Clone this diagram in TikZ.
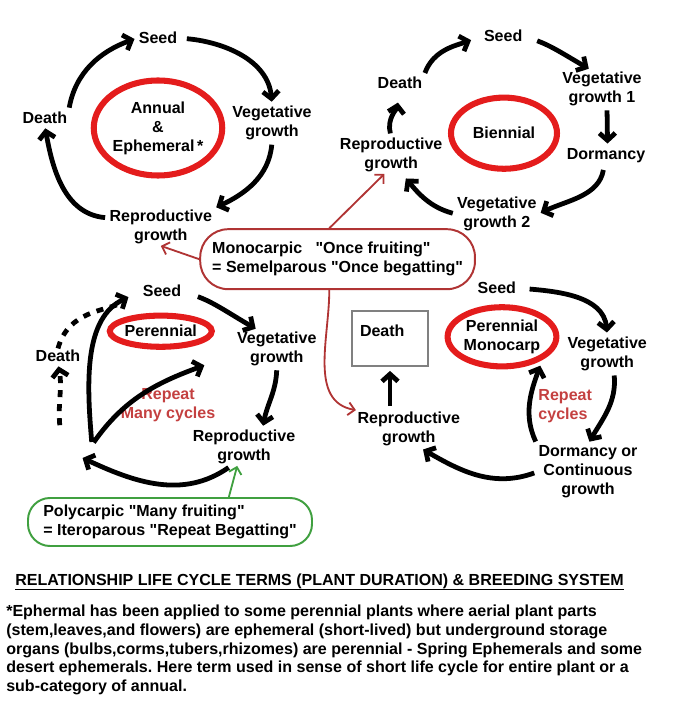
\documentclass[tikz,border=0pt]{standalone}
\usepackage{fontspec}
\setmainfont{Liberation Sans}[Ligatures=TeXOff]
\usetikzlibrary{arrows.meta, shapes.geometric, calc}
\definecolor{ringred}{RGB}{228,28,28}
\definecolor{monored}{RGB}{176,52,52}
\definecolor{repeatred}{RGB}{196,64,64}
\definecolor{polygreen}{RGB}{64,160,64}
\definecolor{deathgray}{RGB}{128,128,128}
\frenchspacing

\begin{document}
\begin{tikzpicture}[
    stage/.style={font=\fontsize{11.4}{13.5}\selectfont\bfseries, align=center, inner sep=1pt},
    ring/.style={draw=ringred, line width=4.3pt, ellipse, inner sep=0pt, font=\fontsize{11.4}{13.5}\selectfont\bfseries, align=center},
    arrow/.style={-{Straight Barb[length=1.8mm, width=4mm]}, line width=3.4pt, shorten <=2pt, shorten >=2pt},
    callarrow/.style={-{Straight Barb[length=1.6mm, width=3.2mm]}, line width=1.3pt, draw=#1},
    callout/.style={draw=#1, line width=1.4pt, align=left, inner ysep=0pt, font=\fontsize{11.4}{13.5}\selectfont\bfseries}
]
    \useasboundingbox (0,0) rectangle (17.25,17.8);

    % Annual & Ephemeral
    \node[ring, minimum width=3.1cm, minimum height=2.375cm] (ringA) at (3.95,14.6) {Annual\\\&\\Ephemeral\,*};
    \node[stage] (seedA) at (3.95,16.85) {Seed};
    \node[stage] (vegA) at (6.8,14.72) {Vegetative\\growth};
    \node[stage] (repA) at (4.02,12.12) {Reproductive\\growth};
    \node[stage] (deathA) at (1.12,14.85) {Death};

    \draw[arrow, shorten <=0.2cm] (seedA.east) to[out=-5, in=95] (vegA.north);
    \draw[arrow] (vegA.south) to[out=-95, in=25] (repA.north east);
    \draw[arrow] (repA.170) to[out=175, in=-80] (deathA.south);
    \draw[arrow] (deathA.north east) to[out=80, in=200] (seedA.west);

    % Biennial
    \node[ring, minimum width=2.65cm, minimum height=1.78cm] (ringB) at (12.6,14.47) {Biennial};
    \node[stage] (seedB) at (12.58,16.9) {Seed};
    \node[stage] (veg1B) at (15.05,15.58) {Vegetative\\growth 1};
    \node[stage] (dormB) at (15.15,13.92) {Dormancy};
    \node[stage] (veg2B) at (12.42,12.45) {Vegetative\\growth 2};
    \node[stage] (repB) at (9.78,13.92) {Reproductive\\growth};
    \node[stage] (deathB) at (10,15.72) {Death};

    \draw[arrow, shorten <=0.35cm] (seedB.east) to[out=-20, in=150] (veg1B.120);
    \draw[arrow] (veg1B.-75) -- (dormB.80);
    \draw[arrow, shorten <=0.15cm] (dormB.-100) to[out=-100, in=25] (veg2B.east);
    \draw[arrow, shorten >=0.15cm] (veg2B.west) to[out=165, in=-50] (repB.-60);
    \draw[arrow, shorten <=0.08cm, shorten >=0.3cm] (repB.north) to[out=105, in=-100] (deathB.south);
    \draw[arrow, shorten >=0.3cm] (deathB.north east) to[out=70, in=200] (seedB.west);

    % Perennial
    \node[ring, minimum width=2.3cm, minimum height=0.78cm] (ringC) at (4.02,9.52) {Perennial};
    \node[stage] (seedC) at (4.05,10.52) {Seed};
    \node[stage] (vegC) at (6.92,9.08) {Vegetative\\growth};
    \node[stage] (repC) at (6.1,6.62) {Reproductive\\growth};
    \node[stage] (deathC) at (1.45,8.9) {Death};
    \node[stage, text=repeatred] (repeatC) at (4.2,7.68) {Repeat\\Many cycles};
    \coordinate (hubC) at (2.3,6.68);
    \coordinate (tipC) at (2,6.38);
    \coordinate (dashC) at (1.5,7.1);

    \draw[arrow, shorten <=0.4cm] (seedC.east) to[out=-20, in=150] (vegC.135);
    \draw[arrow] (vegC.south) to[out=-92, in=80] (repC.45);
    \draw[arrow] (repC.235) to[out=215, in=-25] (tipC);
    \draw[arrow, shorten >=0.35cm] (hubC) to[out=95, in=205] (seedC.west);
    \draw[arrow] (hubC) to[out=55, in=200] ($(ringC.south east)+(0.2,-0.5)$);
    \draw[arrow, dash pattern=on 5pt off 5pt] (dashC) to[out=95, in=-80] (deathC.south);
    \draw[line width=3.4pt, dash pattern=on 5pt off 5pt, shorten >=0.6cm] (deathC.north) to[out=75, in=210] (seedC.west);

    \node[callout=polygreen, rounded corners=0.55cm, minimum width=7.1cm, inner xsep=0.35cm, minimum height=1.2cm] (polyCall) at (4.25,4.75) {Polycarpic "Many fruiting"\\= Iteroparous "Repeat Begatting"};
    \draw[callarrow=polygreen] (polyCall.23) -- (repC.250);

    % Perennial Monocarp
    \node[ring, minimum width=2.72cm, minimum height=1.48cm] (ringD) at (12.55,9.38) {Perennial\\Monocarp};
    \node[stage] (seedD) at (12.42,10.6) {Seed};
    \node[stage] (vegD) at (15.18,8.95) {Vegetative\\growth};
    \node[stage] (dormD) at (14.7,6) {Dormancy or\\Continuous\\growth};
    \node[stage] (repD) at (10.22,7.08) {Reproductive\\growth};
    \node[stage, text=repeatred, align=left, anchor=west] (repeatD) at (13.42,7.65) {Repeat\\cycles};
    \node[draw=deathgray, line width=1.6pt, font=\fontsize{11.4}{13.5}\selectfont\bfseries, align=left, text width=1.5cm, text height=0.45cm, text depth=0.52cm, inner sep=0.2cm] (deathD) at (9.75,9.34) {Death};

    \draw[arrow, shorten <=0.3cm] (seedD.east) to[out=-5, in=95] (vegD.north);
    \draw[arrow] (vegD.-70) to[out=-85, in=60] (dormD.north);
    \draw[arrow, shorten >=0.1cm] (dormD.west) to[out=200, in=-30] (repD.-60);
    \draw[arrow, shorten <=0.1cm, shorten >=0.1cm] (deathD.south |- repD.north) -- (deathD.south);
    \draw[arrow, shorten >=0.15cm] (dormD.north west) to[out=115, in=-110] (ringD.-30);

    % Monocarpic
    \node[callout=monored, rounded corners=0.7cm, minimum width=6.82cm, inner xsep=0.3cm, minimum height=1.5cm] (monoCall) at (8.44,11.32) {Monocarpic~~~"Once fruiting"\\= Semelparous "Once begatting"};
    \draw[callarrow=monored] (monoCall.west) -- (repA.south);
    \draw[callarrow=monored] (monoCall.105) -- (repB.250);
    \draw[callarrow=monored] (monoCall.-105) to[out=-90, in=170] (repD.north west);

    % Notes
    \node[anchor=base west, inner sep=0pt, font=\fontsize{11.4}{13.5}\selectfont\bfseries] (title) at (0.375,3.15) {RELATIONSHIP LIFE CYCLE TERMS (PLANT DURATION) \& BREEDING SYSTEM};
    \draw[line width=1.2pt] (title.south west) -- (title.south east);
    \node[anchor=north west, align=left, inner sep=0pt, font=\fontsize{11.4}{13.3}\selectfont\bfseries] (note) at (0.15,2.68) {*Ephermal has been applied to some perennial plants where aerial plant parts\\(stem,leaves,and flowers) are ephemeral (short-lived) but underground storage\\organs (bulbs,corms,tubers,rhizomes) are perennial - Spring Ephemerals and some\\desert ephemerals. Here term used in sense of short life cycle for entire plant or a\\sub-category of annual.};
\end{tikzpicture}
\end{document}
